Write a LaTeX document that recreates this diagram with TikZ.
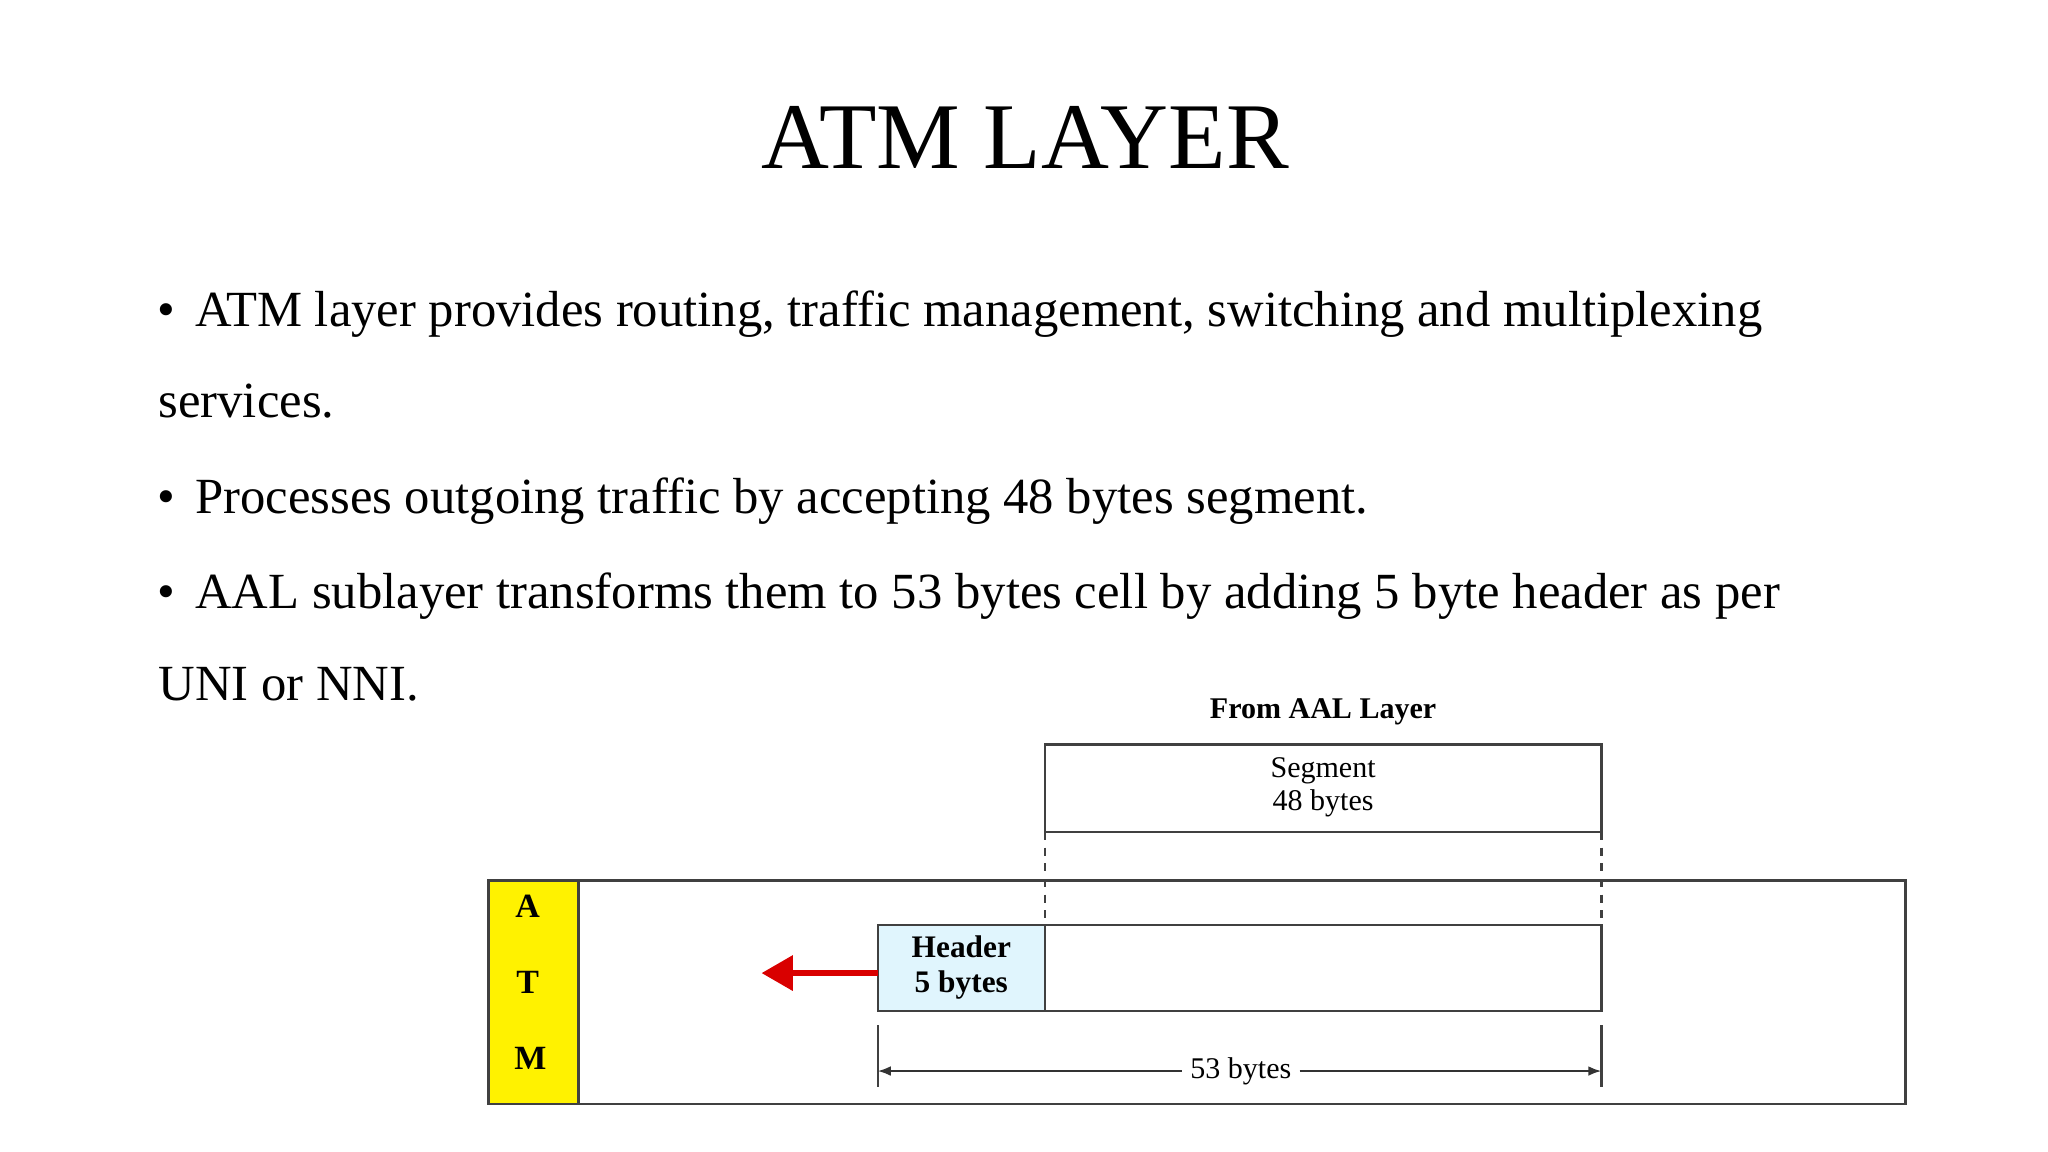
\documentclass[tikz,border=0pt]{standalone}
\usepackage{fontspec}
\setmainfont{Liberation Serif}
\usetikzlibrary{arrows.meta}
\begin{document}
\begin{tikzpicture}[x=0.5pt,y=-0.5pt,
  body/.style={anchor=base west,inner sep=0,font=\fontsize{19.4}{21}\selectfont},
  box/.style={draw=black!75,line width=0.9pt},
  small/.style={font=\fontsize{11.5}{12.5}\selectfont,align=center,inner sep=0}]
\useasboundingbox[fill=white] (0,0) rectangle (1568,882);
\node[font=\fontsize{36}{40}\selectfont] (title) at (785,105) {ATM LAYER};
\node[body] (b1) at (120,250) {\textbullet\hspace{0.4em}ATM layer provides routing, traffic management, switching and multiplexing};
\node[body] (b1b) at (121,320) {services.};
\node[body] (b2) at (120,393) {\textbullet\hspace{0.4em}Processes outgoing traffic by accepting 48 bytes segment.};
\node[body] (b3) at (120,466) {\textbullet\hspace{0.4em}AAL sublayer transforms them to 53 bytes cell by adding 5 byte header as per};
\node[body] (b3b) at (121,536) {UNI or NNI.};
% diagram
\node[small,font=\bfseries\fontsize{11.5}{12}\selectfont] (from) at (1013,545) {From AAL Layer};
\draw[box] (800,570) rectangle (1226,637);
\node[small] (seg) at (1013,603) {Segment\\48 bytes};
\draw[box] (374,674) rectangle (1459,845);
\draw[box,fill=yellow] (374,674) rectangle (443,845);
\node[small,font=\bfseries\fontsize{13}{14}\selectfont] (a) at (404,694) {A};
\node[small,font=\bfseries\fontsize{13}{14}\selectfont] (t) at (404,752) {T};
\node[small,font=\bfseries\fontsize{13}{14}\selectfont] (m) at (406,810) {M};
\draw[black!75,dashed,line width=0.9pt] (800,637) -- (800,708) (1226,637) -- (1226,708);
\draw[box,fill=cyan!12] (672,708) rectangle (800,774);
\node[small,font=\bfseries\fontsize{12}{13.5}\selectfont] (hdr) at (736,741) {Header\\5 bytes};
\draw[box] (800,708) rectangle (1226,774);
\coordinate (ra) at (672,745); \coordinate (rb) at (583,745);
\draw[red!85!black,line width=2.5pt,-{Triangle[length=12pt,width=13pt]}] (ra) -- (rb);
\draw[black!75,line width=0.9pt] (672,785) -- (672,832) (1226,785) -- (1226,832);
\node[small,fill=white,inner sep=3pt] (b53) at (950,820) {53 bytes};
\coordinate (l1) at (672,820); \coordinate (l2) at (1226,820);
\draw[black!80,line width=0.8pt,-{Latex[length=5pt]}] (b53.west) -- (l1);
\draw[black!80,line width=0.8pt,-{Latex[length=5pt]}] (b53.east) -- (l2);
\end{tikzpicture}
\end{document}
